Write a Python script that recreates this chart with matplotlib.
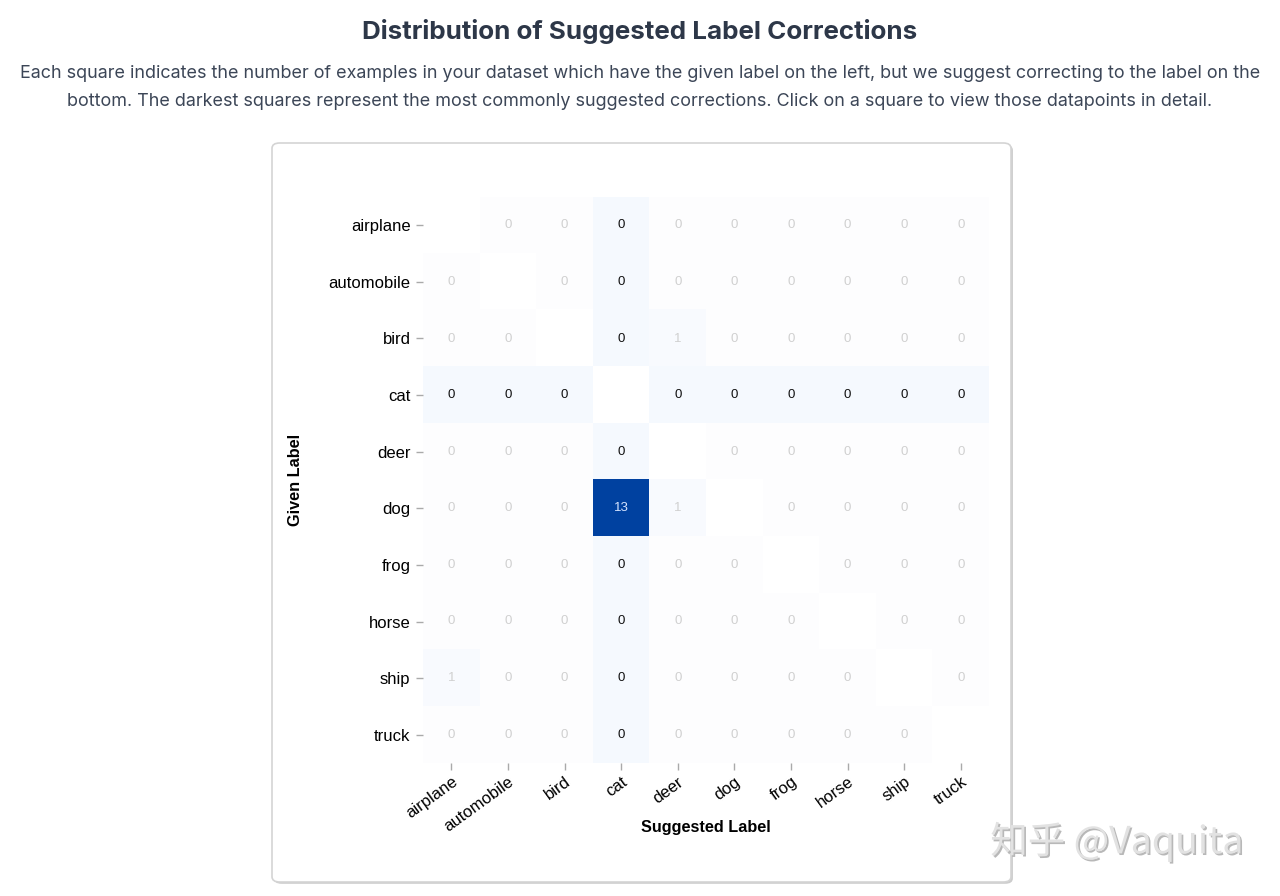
import numpy as np
import matplotlib
matplotlib.use("Agg")
import matplotlib.pyplot as plt
from matplotlib.colors import LinearSegmentedColormap
from matplotlib.patches import FancyBboxPatch
import matplotlib.patheffects as pe

# --- Data ---
labels = ['airplane', 'automobile', 'bird', 'cat', 'deer',
          'dog', 'frog', 'horse', 'ship', 'truck']

# shown counts (rows = given label, cols = suggested label), diagonal left empty
counts = np.zeros((10, 10))
counts[2, 4] = 1    # bird -> deer
counts[5, 3] = 13   # dog -> cat
counts[5, 4] = 1    # dog -> deer
counts[8, 0] = 1    # ship -> airplane
np.fill_diagonal(counts, np.nan)

# cell shading (0 = white, 1 = darkest)
shade = np.full((10, 10), 0.01)
shade[:, 3] = 0.04
shade[3, :] = 0.04
shade[2, 4] = 0.03
shade[5, 4] = 0.03
shade[8, 0] = 0.03
shade[5, 3] = 1.0
np.fill_diagonal(shade, 0.0)

title = "Distribution of Suggested Label Corrections"
subtitle = ["Each square indicates the number of examples in your dataset which have the given label on the left, but we suggest correcting to the label on the",
            "bottom. The darkest squares represent the most commonly suggested corrections. Click on a square to view those datapoints in detail."]

# --- Figure ---
fig = plt.figure(figsize=(12.8, 8.96), dpi=100)
fig.patch.set_facecolor('white')

fig.text(0.5, 1 - 32 / 896, title, ha='center', va='center', fontsize=18.7,
         fontweight='bold', color='#2d3748', family='Inter')
for i, line in enumerate(subtitle):
    fig.text(0.5, 1 - (74 + 28 * i) / 896, line, ha='center', va='center',
             fontsize=12.95, color='#3c4657', family='Inter')

# card with soft shadow
card_x, card_y = 272 / 1280, 1 - 882 / 896
card_w, card_h = (1011 - 272) / 1280, (882 - 143) / 896
shadow = FancyBboxPatch((card_x + 0.0015, card_y - 0.002), card_w, card_h,
                        boxstyle="round,pad=0,rounding_size=0.006",
                        transform=fig.transFigure, facecolor='#9a9a9a',
                        edgecolor='none', alpha=0.5, zorder=-2)
card = FancyBboxPatch((card_x, card_y), card_w, card_h,
                      boxstyle="round,pad=0,rounding_size=0.006",
                      transform=fig.transFigure, facecolor='white',
                      edgecolor='#d4d4d4', linewidth=1.2, zorder=-1)
fig.patches.extend([shadow, card])

ax = fig.add_axes([423 / 1280, 1 - 763 / 896, (989 - 423) / 1280, (763 - 197) / 896])
ax.set_zorder(2)
ax.set_facecolor('none')
cmap = LinearSegmentedColormap.from_list('corr', [(0, '#ffffff'), (0.1, '#e6f0fd'), (1, '#0041a0')])
ax.imshow(shade, cmap=cmap, vmin=0, vmax=1, aspect='auto', interpolation='nearest')

for r in range(10):
    for c in range(10):
        v = counts[r, c]
        if np.isnan(v):
            continue
        s = shade[r, c]
        if s > 0.5:
            col = '#d6e4ff'
        elif s >= 0.035:
            col = '#111111'
        else:
            col = '#d0d0d0'
        ax.text(c, r, f"{int(v)}", ha='center', va='center', fontsize=9.5,
                color=col, family='Liberation Sans')

ax.set_xticks(range(10))
ax.set_yticks(range(10))
ax.set_xticklabels(labels, rotation=36, ha='right', rotation_mode='anchor',
                   fontsize=12, family='Liberation Sans')
ax.set_yticklabels(labels, fontsize=12, family='Liberation Sans')
ax.tick_params(axis='both', length=5, width=1, color='#aaaaaa', pad=4)
ax.tick_params(axis='x', pad=3)
for sp in ax.spines.values():
    sp.set_visible(False)

ax.set_xlabel("Suggested Label", fontsize=11.7, fontweight='bold',
              family='Liberation Sans', va='center')
ax.xaxis.set_label_coords(0.5, -64 / 566)
ax.set_ylabel("Given Label", fontsize=11.7, fontweight='bold',
              family='Liberation Sans', labelpad=18)

# watermark
fig.text(1117 / 1280, 1 - 842 / 896, "知乎 @Vaquita", ha='center', va='center',
         fontsize=27, color='#e2e2e2', fontweight='light',
         family=['Noto Sans CJK SC', 'DejaVu Sans'],
         path_effects=[pe.withSimplePatchShadow(offset=(1.2, -1.2), shadow_rgbFace='#8a8a8a', alpha=0.6)])

fig.savefig("out.png", dpi=100, facecolor='white')
